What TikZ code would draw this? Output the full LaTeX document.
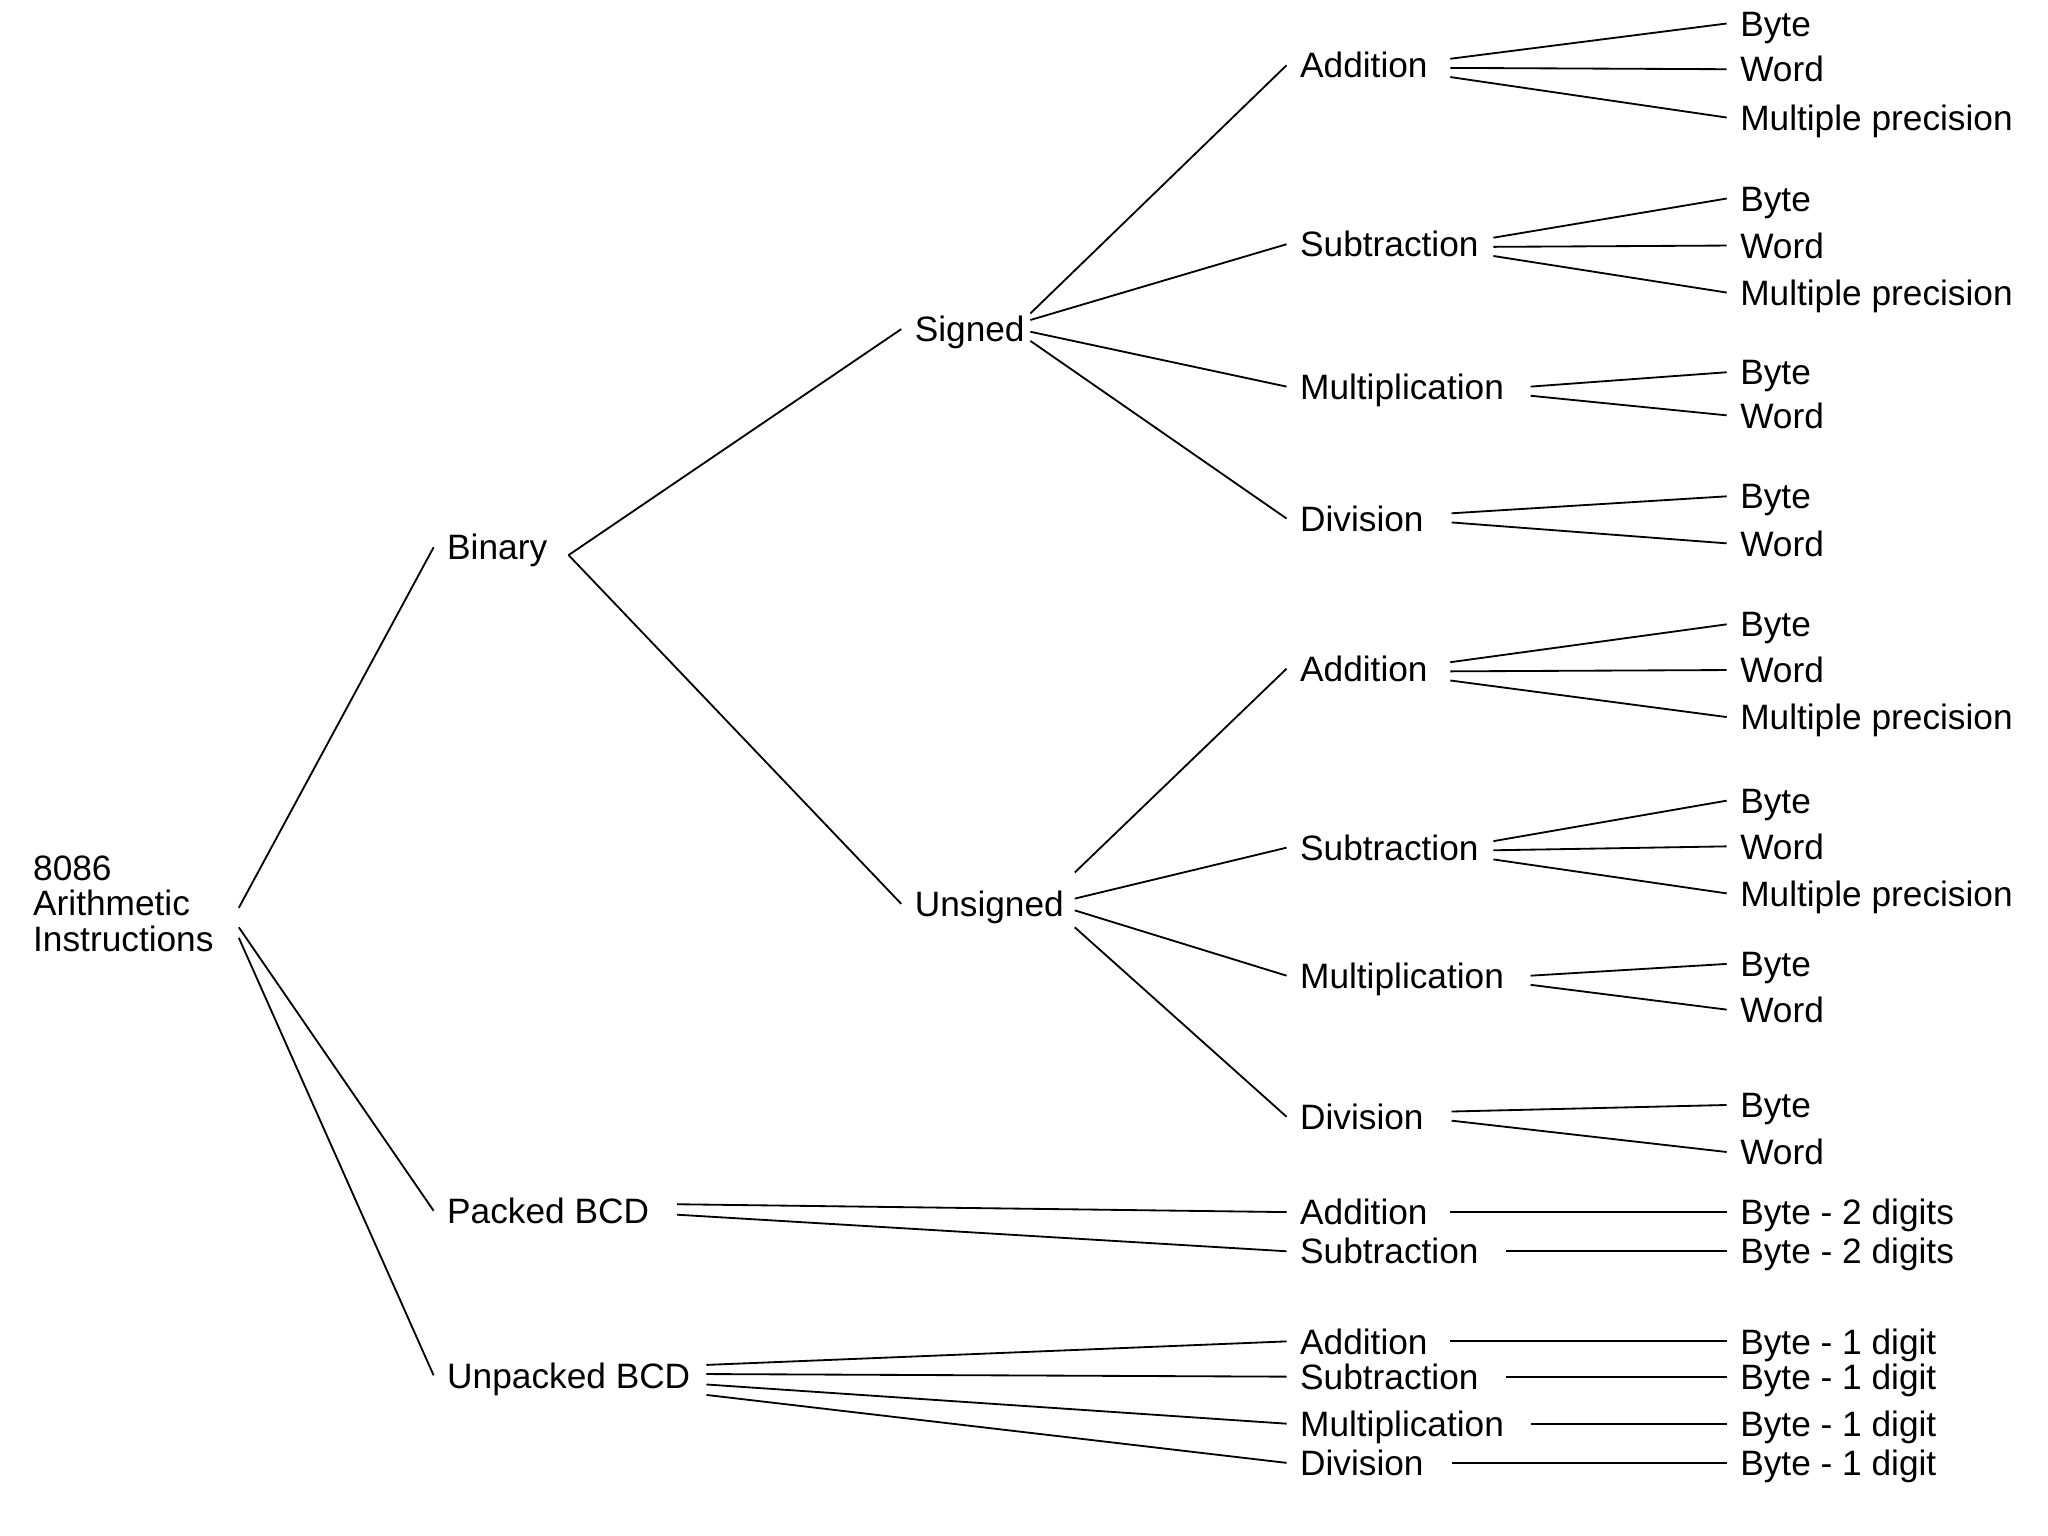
\documentclass[tikz,border=0pt]{standalone}
\usepackage{fontspec}
\setmainfont{Liberation Sans}

\tikzset{
  lbl/.style={anchor=west, inner xsep=5pt, inner ysep=0pt, text height=9.7pt, text depth=0pt,
    font=\fontsize{13.5}{16}\selectfont},
  rootlbl/.style={anchor=west, inner xsep=5pt, inner ysep=0pt, align=left,
    font=\fontsize{13.5}{13.75}\selectfont},
  branch/.style={draw=black, line width=0.7pt}
}

\begin{document}
\begin{tikzpicture}[x=0.5pt,y=-0.5pt]
\useasboundingbox (0,0) rectangle (1568,1176);
% top levels
\node [rootlbl] (root) at (15,692) {8086\\Arithmetic\\Instructions};
\node [lbl] (bin) at (332,419) {Binary};
\node [lbl] (pbcd) at (332,927) {Packed BCD};
\node [lbl] (ubcd) at (332,1053) {Unpacked BCD};
\node [lbl] (sgn) at (690,252) {Signed};
\node [lbl] (usg) at (690,692) {Unsigned};
% signed
\node [lbl] (sadd) at (985,50) {Addition};
\node [lbl] (ssub) at (985,187) {Subtraction};
\node [lbl] (smul) at (985,296) {Multiplication};
\node [lbl] (sdiv) at (985,397) {Division};
\node [lbl] (sadd1) at (1322,18) {Byte};
\node [lbl] (sadd2) at (1322,53) {Word};
\node [lbl] (sadd3) at (1322,90) {Multiple precision};
\node [lbl] (ssub1) at (1322,152) {Byte};
\node [lbl] (ssub2) at (1322,188) {Word};
\node [lbl] (ssub3) at (1322,224) {Multiple precision};
\node [lbl] (smul1) at (1322,285) {Byte};
\node [lbl] (smul2) at (1322,318) {Word};
\node [lbl] (sdiv1) at (1322,380) {Byte};
\node [lbl] (sdiv2) at (1322,416) {Word};
% unsigned
\node [lbl] (uadd) at (985,512) {Addition};
\node [lbl] (usub) at (985,649) {Subtraction};
\node [lbl] (umul) at (985,747) {Multiplication};
\node [lbl] (udiv) at (985,855) {Division};
\node [lbl] (uadd1) at (1322,478) {Byte};
\node [lbl] (uadd2) at (1322,513) {Word};
\node [lbl] (uadd3) at (1322,549) {Multiple precision};
\node [lbl] (usub1) at (1322,613) {Byte};
\node [lbl] (usub2) at (1322,648) {Word};
\node [lbl] (usub3) at (1322,684) {Multiple precision};
\node [lbl] (umul1) at (1322,738) {Byte};
\node [lbl] (umul2) at (1322,773) {Word};
\node [lbl] (udiv1) at (1322,846) {Byte};
\node [lbl] (udiv2) at (1322,882) {Word};
% packed and unpacked BCD
\node [lbl] (padd) at (985,928) {Addition};
\node [lbl] (psub) at (985,958) {Subtraction};
\node [lbl] (padd1) at (1322,928) {Byte - 2 digits};
\node [lbl] (psub1) at (1322,958) {Byte - 2 digits};
\node [lbl] (badd) at (985,1027) {Addition};
\node [lbl] (bsub) at (985,1054) {Subtraction};
\node [lbl] (bmul) at (985,1090) {Multiplication};
\node [lbl] (bdiv) at (985,1120) {Division};
\node [lbl] (badd1) at (1322,1027) {Byte - 1 digit};
\node [lbl] (bsub1) at (1322,1054) {Byte - 1 digit};
\node [lbl] (bmul1) at (1322,1090) {Byte - 1 digit};
\node [lbl] (bdiv1) at (1322,1120) {Byte - 1 digit};

% root and binary branches
\draw [branch] ([xshift=4.5pt,yshift=-1.5pt]root.east) -- (bin.west);
\draw [branch] ([xshift=4.5pt,yshift=-9pt]root.east) -- (pbcd.west);
\draw [branch] ([xshift=4.5pt,yshift=-13pt]root.east) -- (ubcd.west);
\draw [branch] ([xshift=3pt,yshift=-3pt]bin.east) -- (sgn.west);
\draw [branch] ([xshift=3pt,yshift=-3pt]bin.east) -- (usg.west);
\draw [branch] ([xshift=-3pt,yshift=6pt]sgn.east) -- (sadd.west);
\draw [branch] ([xshift=-3pt,yshift=3.5pt]sgn.east) -- (ssub.west);
\draw [branch] ([xshift=-3pt,yshift=-1pt]sgn.east) -- (smul.west);
\draw [branch] ([xshift=-3pt,yshift=-4.5pt]sgn.east) -- (sdiv.west);
\draw [branch] ([xshift=-1pt,yshift=12pt]usg.east) -- (uadd.west);
\draw [branch] ([xshift=-1pt,yshift=2pt]usg.east) -- (usub.west);
\draw [branch] ([xshift=-1pt,yshift=-2.5pt]usg.east) -- (umul.west);
\draw [branch] ([xshift=-1pt,yshift=-9pt]usg.east) -- (udiv.west);

% signed leaves
\draw [branch] ([xshift=3.5pt,yshift=2.5pt]sadd.east) -- (sadd1.west);
\draw [branch] ([xshift=3.5pt,yshift=-1pt]sadd.east) -- (sadd2.west);
\draw [branch] ([xshift=3.5pt,yshift=-4.5pt]sadd.east) -- (sadd3.west);
\draw [branch] ([xshift=0.5pt,yshift=2.5pt]ssub.east) -- (ssub1.west);
\draw [branch] ([xshift=0.5pt,yshift=-1pt]ssub.east) -- (ssub2.west);
\draw [branch] ([xshift=0.5pt,yshift=-4.5pt]ssub.east) -- (ssub3.west);
\draw [branch] ([xshift=5pt,yshift=0pt]smul.east) -- (smul1.west);
\draw [branch] ([xshift=5pt,yshift=-3.5pt]smul.east) -- (smul2.west);
\draw [branch] ([xshift=5.5pt,yshift=2pt]sdiv.east) -- (sdiv1.west);
\draw [branch] ([xshift=5.5pt,yshift=-1.5pt]sdiv.east) -- (sdiv2.west);

% unsigned leaves
\draw [branch] ([xshift=3.5pt,yshift=2.5pt]uadd.east) -- (uadd1.west);
\draw [branch] ([xshift=3.5pt,yshift=-1pt]uadd.east) -- (uadd2.west);
\draw [branch] ([xshift=3.5pt,yshift=-4.5pt]uadd.east) -- (uadd3.west);
\draw [branch] ([xshift=0.5pt,yshift=2.5pt]usub.east) -- (usub1.west);
\draw [branch] ([xshift=0.5pt,yshift=-1pt]usub.east) -- (usub2.west);
\draw [branch] ([xshift=0.5pt,yshift=-4.5pt]usub.east) -- (usub3.west);
\draw [branch] ([xshift=5pt,yshift=0pt]umul.east) -- (umul1.west);
\draw [branch] ([xshift=5pt,yshift=-3.5pt]umul.east) -- (umul2.west);
\draw [branch] ([xshift=5.5pt,yshift=2pt]udiv.east) -- (udiv1.west);
\draw [branch] ([xshift=5.5pt,yshift=-1.5pt]udiv.east) -- (udiv2.west);

% BCD
\draw [branch] ([xshift=5.5pt,yshift=2.5pt]pbcd.east) -- (padd.west);
\draw [branch] ([xshift=5.5pt,yshift=-1.5pt]pbcd.east) -- (psub.west);
\draw [branch] ([xshift=3.5pt]padd.east) -- (padd1.west);
\draw [branch] ([xshift=5.5pt]psub.east) -- (psub1.west);
\draw [branch] ([xshift=1pt,yshift=4pt]ubcd.east) -- (badd.west);
\draw [branch] ([xshift=1pt,yshift=0.5pt]ubcd.east) -- (bsub.west);
\draw [branch] ([xshift=1pt,yshift=-3.5pt]ubcd.east) -- (bmul.west);
\draw [branch] ([xshift=1pt,yshift=-7.5pt]ubcd.east) -- (bdiv.west);
\draw [branch] ([xshift=3.5pt]badd.east) -- (badd1.west);
\draw [branch] ([xshift=5.5pt]bsub.east) -- (bsub1.west);
\draw [branch] ([xshift=5pt]bmul.east) -- (bmul1.west);
\draw [branch] ([xshift=5.5pt]bdiv.east) -- (bdiv1.west);
\end{tikzpicture}
\end{document}
